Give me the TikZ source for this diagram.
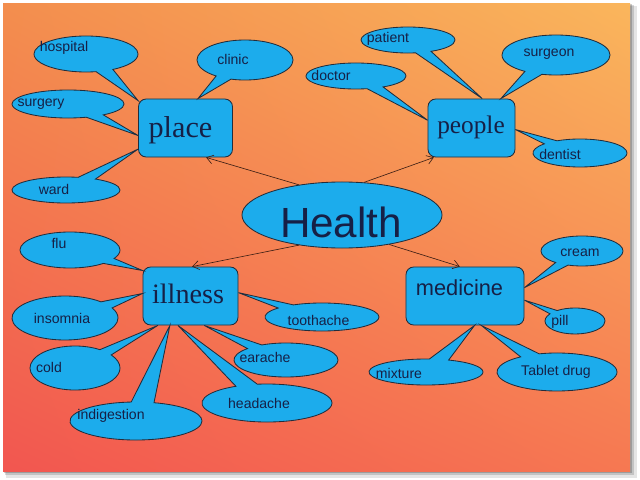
\documentclass[tikz,border=0pt]{standalone}
\usepackage{fontspec}
\setmainfont{Liberation Sans}
\newfontfamily\boxserif{Liberation Serif}
\usepackage{tikz}
\usetikzlibrary{shapes.geometric,shapes.callouts,arrows.meta,shadings}
\definecolor{boxblue}{RGB}{28,172,236}
\definecolor{ink}{RGB}{22,32,70}
\definecolor{rim}{RGB}{35,45,60}
\definecolor{arcol}{RGB}{60,30,20}
\definecolor{bgul}{RGB}{243,142,78}
\definecolor{bgur}{RGB}{250,182,92}
\definecolor{bgll}{RGB}{242,86,80}
\definecolor{bglr}{RGB}{246,120,82}
\tikzset{
  topic/.style={rectangle, rounded corners=5.5pt, draw=rim, line width=0.6pt,
                fill=boxblue, minimum height=1.45cm, inner sep=0pt},
  bub/.style 2 args={ellipse callout, draw=rim, line width=0.6pt, fill=boxblue,
                inner sep=0pt, minimum width=#1*0.05cm, minimum height=#2*0.05cm,
                callout pointer arc=20},
  lbl/.style={font=\fontsize{10}{12}\selectfont, text=ink, inner sep=0pt},
  ttl/.style={text=ink, inner sep=0pt, anchor=base},
  ar/.style={-{Straight Barb[length=1.6mm, width=2.2mm]}, line width=0.45pt, draw=arcol}
}
\begin{document}
\begin{tikzpicture}[x=0.025cm, y=-0.025cm]
\useasboundingbox (0,0) rectangle (640,480);
% ---- slide ----
\fill[black, opacity=0.10] (6,6) rectangle (637,478);
\fill[black, opacity=0.15] (5,5) rectangle (634,475);
\fill[black, opacity=0.20] (4,4) rectangle (632,473);
\shade[upper left=bgul, upper right=bgur, lower left=bgll, lower right=bglr] (3,3) rectangle (630,471);
% ---- centre and topics ----
\node[ellipse, draw=rim, line width=0.6pt, fill=boxblue, minimum width=5cm,
      minimum height=1.65cm] (health) at (342,215) {};
\node[ttl, font=\fontsize{30}{34}\selectfont] (health-t) at (341,237) {Health};
\node[topic, minimum width=2.35cm] (place) at (185.5,128) {};
\node[ttl, font=\boxserif\fontsize{21.5}{24}\selectfont] (place-t) at (180.5,137) {place};
\node[topic, minimum width=2.175cm] (people) at (471.5,128) {};
\node[ttl, font=\boxserif\fontsize{18}{20}\selectfont] (people-t) at (471,133) {people};
\node[topic, minimum width=2.375cm] (illness) at (190.5,296) {};
\node[ttl, font=\boxserif\fontsize{20}{22}\selectfont] (illness-t) at (188,303) {illness};
\node[topic, minimum width=2.95cm] (medicine) at (465,296) {};
\node[ttl, font=\fontsize{15.5}{18}\selectfont] (medicine-t) at (459.5,295) {medicine};
% ---- arrows ----
\draw[ar] (health.145) -- (place.305);
\draw[ar] (health.56) -- (people.218);
\draw[ar] (health.215) -- (illness.87);
\draw[ar] (health.328) -- (medicine.100);
% ---- place ----
\node[bub={52}{18}, callout absolute pointer={(place.150)}] (hospital) at (86,54) {};
\node[lbl] (hospital-t) at (64,48) {hospital};
\node[bub={48}{20}, callout absolute pointer={(place.67)}] (clinic) at (245,60) {};
\node[lbl] (clinic-t) at (233,59) {clinic};
\node[bub={56}{14}, callout absolute pointer={(place.189)}] (surgery) at (68,104) {};
\node[lbl] (surgery-t) at (41,104) {surgery};
\node[bub={54}{13}, callout absolute pointer={(place.204)}] (ward) at (66,190) {};
\node[lbl] (ward-t) at (54,189) {ward};
% ---- people ----
\node[bub={47}{13}, callout absolute pointer={(people.70)}] (patient) at (408,40) {};
\node[lbl] (patient-t) at (388,39) {patient};
\node[bub={54}{20}, callout absolute pointer={(people.45)}] (surgeon) at (556,55) {};
\node[lbl] (surgeon-t) at (549,54) {surgeon};
\node[bub={50}{13}, callout absolute pointer={(people.170)}] (doctor) at (356,76) {};
\node[lbl] (doctor-t) at (331,75) {doctor};
\node[bub={47}{14}, callout absolute pointer={(people.-2)}] (dentist) at (580,153) {};
\node[lbl] (dentist-t) at (560,154) {dentist};
% ---- illness ----
\node[bub={50}{18}, callout absolute pointer={(illness.152)}] (flu) at (70,250) {};
\node[lbl] (flu-t) at (59,243) {flu};
\node[bub={53}{22}, callout absolute pointer={(illness.177)}] (insomnia) at (65,318) {};
\node[lbl] (insomnia-t) at (62,318) {insomnia};
\node[bub={57}{14}, callout absolute pointer={(illness.4)}] (toothache) at (322,317) {};
\node[lbl] (toothache-t) at (318.5,320) {toothache};
\node[bub={45}{22}, callout absolute pointer={(illness.222)}] (cold) at (75,368) {};
\node[lbl] (cold-t) at (49,367) {cold};
\node[bub={66}{19}, callout absolute pointer={(illness.235)}] (indigestion) at (136,421) {};
\node[lbl] (indigestion-t) at (111,416) {indigestion};
\node[bub={65}{19}, callout absolute pointer={(illness.247)}] (headache) at (267,403) {};
\node[lbl] (headache-t) at (259,403) {headache};
\node[bub={52}{17}, callout absolute pointer={(illness.295)}] (earache) at (286,360) {};
\node[lbl] (earache-t) at (265,357) {earache};
% ---- medicine ----
\node[bub={41}{15}, callout absolute pointer={(medicine.8)}] (cream) at (582,251) {};
\node[lbl] (cream-t) at (580,253) {cream};
\node[bub={30}{13}, callout absolute pointer={(medicine.-4)}] (pill) at (575,321) {};
\node[lbl] (pill-t) at (560,322) {pill};
\node[bub={57}{13}, callout absolute pointer={(medicine.288)}] (mixture) at (426,372) {};
\node[lbl] (mixture-t) at (399,373) {mixture};
\node[bub={60}{19}, callout absolute pointer={(medicine.299)}] (tablet) at (557,372) {};
\node[lbl] (tablet-t) at (556,372) {Tablet drug};
\end{tikzpicture}
\end{document}
